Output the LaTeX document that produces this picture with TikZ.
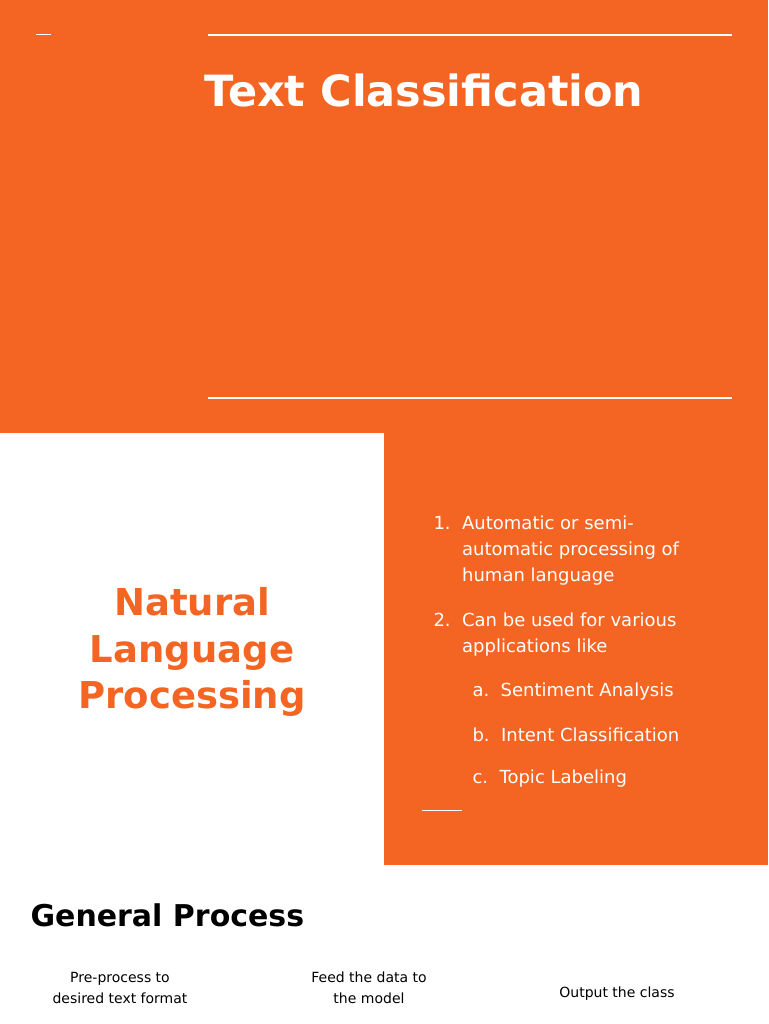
\documentclass[tikz,border=0pt]{standalone}
\usepackage{fontspec}
\setmainfont{DejaVu Sans}
\definecolor{org}{HTML}{F46524}
\begin{document}
\begin{tikzpicture}[x=1pt,y=-1pt,
  wl/.style={draw=white,line width=2pt},
  li/.style={anchor=west,text=white,font=\fontsize{18}{26}\selectfont,align=left},
  sm/.style={font=\fontsize{14}{21}\selectfont,align=center}]
\useasboundingbox (0,0) rectangle (768,1024);
\fill[white] (0,0) rectangle (768,1024);
\fill[org] (0,0) rectangle (768,433);
\fill[org] (384,433) rectangle (768,865);
\draw[wl] (208,35) -- (732,35);
\draw[wl] (208,398) -- (732,398);
\draw[draw=white,line width=1pt] (36,35) -- (51,35);
\draw[draw=white,line width=1pt] (422,810) -- (462,810);
\node[text=white,font=\bfseries\fontsize{43}{50}\selectfont] (title) at (424,90) {Text Classification};
\node[text=org,font=\bfseries\fontsize{37}{46.5}\selectfont,align=center] (nlp) at (192,652) {Natural\\Language\\Processing};
\node[li] (i1) at (430,551) {1.~~Automatic or semi-\\\hphantom{1.~~}automatic processing of\\\hphantom{1.~~}human language};
\node[li] (i2) at (430,635) {2.~~Can be used for various\\\hphantom{2.~~}applications like};
\node[li] (ia) at (469,692) {a.~~Sentiment Analysis};
\node[li] (ib) at (469,735) {b.~~Intent Classification};
\node[li] (ic) at (469,779) {c.~~Topic Labeling};
\node[anchor=west,font=\bfseries\fontsize{30}{36}\selectfont] (gp) at (27,915) {General Process};
\node[sm] (s1) at (120,988) {Pre-process to\\desired text format};
\node[sm] (s2) at (369,988) {Feed the data to\\the model};
\node[sm] (s3) at (617,994) {Output the class};
\end{tikzpicture}
\end{document}
